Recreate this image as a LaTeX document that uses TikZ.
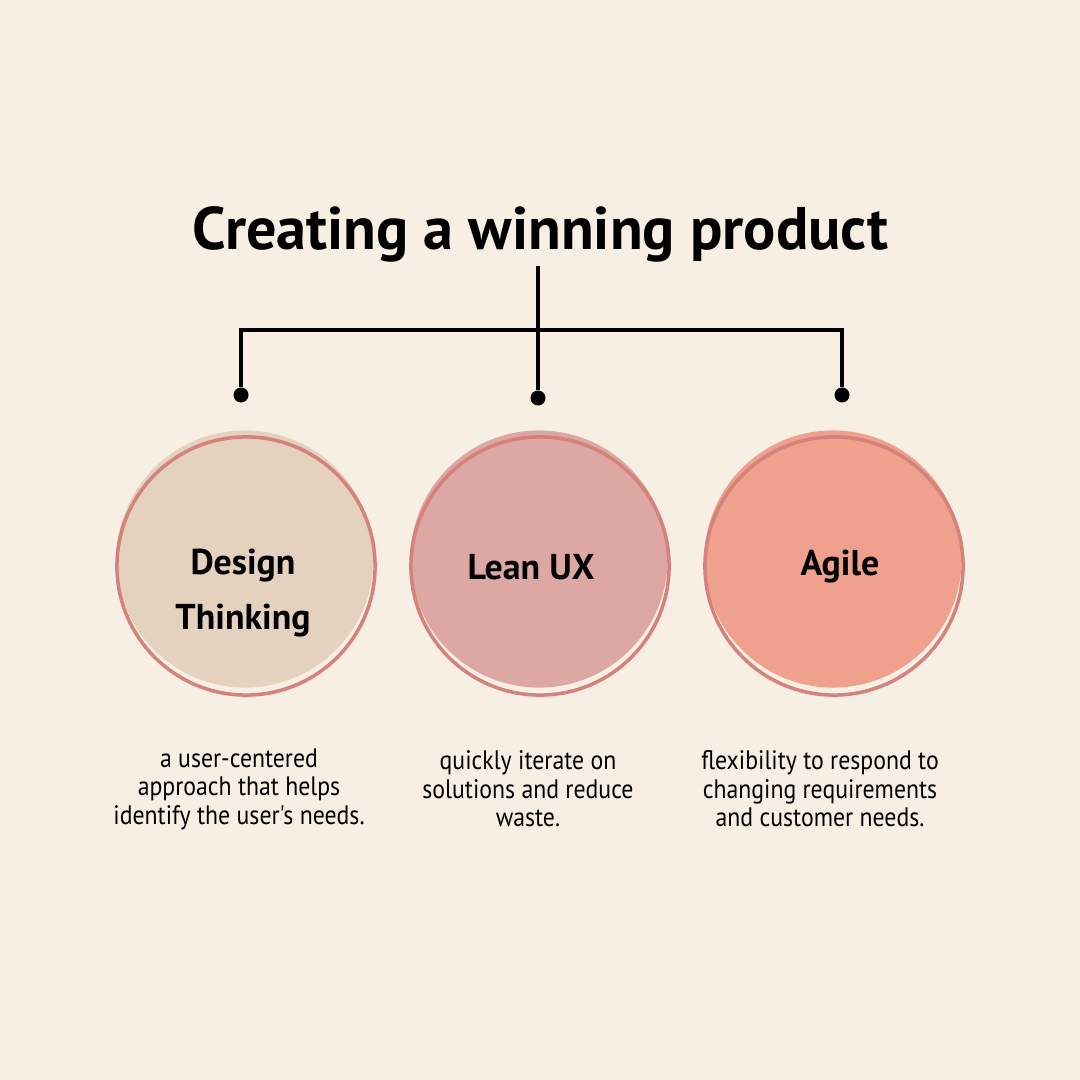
\documentclass[tikz,border=0pt]{standalone}
\usepackage{fontspec}
\setmainfont{PT Sans}
\newfontfamily\descfont{PT Sans}[FakeStretch=0.89]
\definecolor{bg}{HTML}{F7EFE3}
\definecolor{ring}{HTML}{D5817C}
\definecolor{sand}{HTML}{E4D2BF}
\definecolor{rose}{HTML}{DDA8A4}
\definecolor{salmon}{HTML}{EFA18E}

\begin{document}
\begin{tikzpicture}[x=0.01cm, y=-0.01cm,
    p/.style={fill, circle, minimum size=0.15cm, inner sep=0pt, outer sep=0pt},
    disc/.style={circle, minimum size=2.57cm, inner sep=0pt},
    ring/.style={circle, draw=ring, line width=1pt, minimum size=2.58cm, inner sep=0pt},
    head/.style={font=\bfseries\fontsize{10.2}{14.4}\selectfont, align=center},
    desc/.style={font=\descfont\fontsize{7.6}{8.1}\selectfont, align=center}]
            \useasboundingbox[fill=bg] (0,0) rectangle (1080,1080);
            \node[font=\bfseries\fontsize{17.1}{20}\selectfont, inner sep=1pt] (title) at (540,234) {Creating a winning product};

            % dots under the tree
            \node[p] (dl) at (241,395) {};
            \node[p] (dm) at (538,398) {};
            \node[p] (dr) at (842,395) {};
            \coordinate (bar) at (538,330);

            \draw[line width=1.1pt] (title.south -| dm) -- (dm);
            \draw[line width=1.1pt] (dl) |- (bar) -| (dr);

            % circles, filled disc a bit higher than its ring
            \node[disc, fill=sand] (d1) at (245,559) {};
            \node[ring] (r1) at (246,566) {};
            \node[disc, fill=rose] (d2) at (539,559) {};
            \node[ring] (r2) at (540,566) {};
            \node[disc, fill=salmon] (d3) at (833,559) {};
            \node[ring] (r3) at (834,566) {};

            \node[head] (h1) at (243,593) {Design\\[1pt]Thinking};
            \node[head] (h2) at (531,567) {Lean UX};
            \node[head] (h3) at (840,567) {Agile};

            \node[desc] (t1) at (239,789) {a user-centered\\approach that helps\\identify the user's needs.};
            \node[desc] (t2) at (528,789) {quickly iterate on\\solutions and reduce\\waste.};
            \node[desc] (t3) at (820,789) {flexibility to respond to\\changing requirements\\and customer needs.};
        \end{tikzpicture}
\end{document}
